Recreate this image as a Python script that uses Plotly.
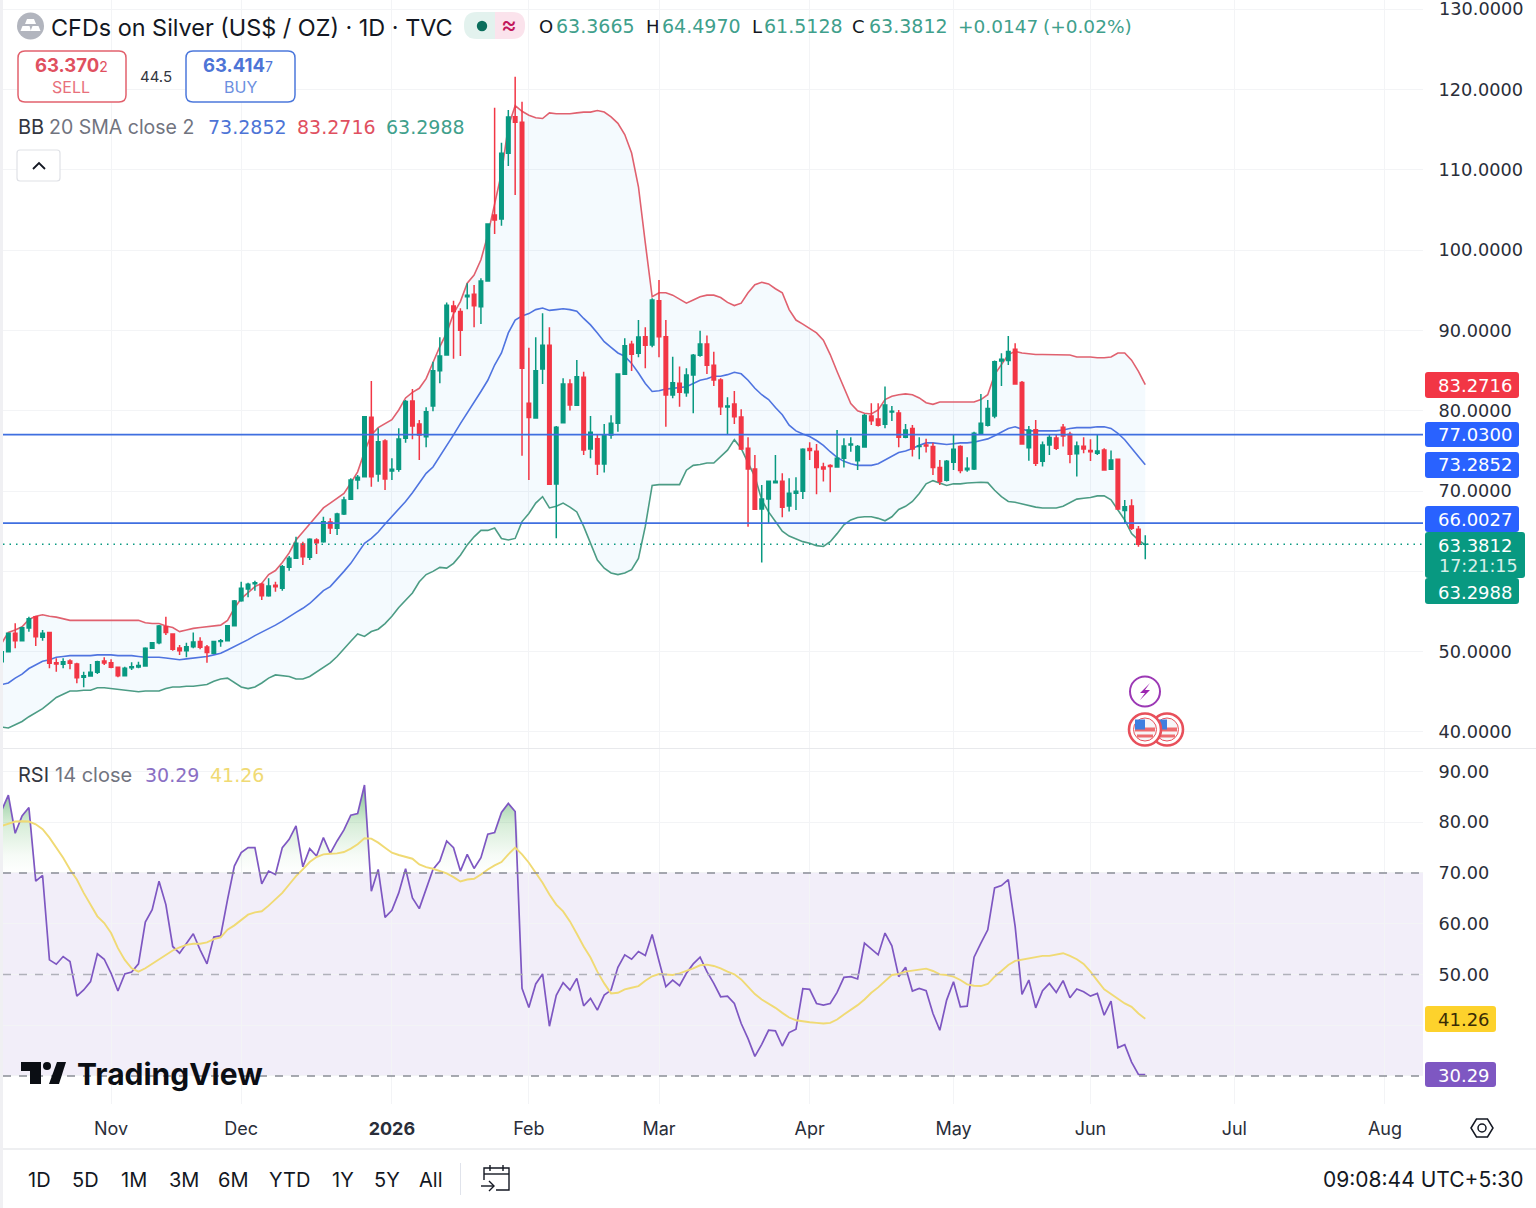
import numpy as np
import plotly.graph_objects as go

# Daily candles, CFDs on Silver (US$ / OZ)
open_ = [48.75,50.00,52.28,51.37,52.95,54.36,51.78,52.37,48.63,48.42,48.84,48.46,46.80,46.97,47.43,48.84,48.63,48.05,47.01,48.01,
48.09,48.22,50.41,51.12,53.11,52.20,50.46,50.12,50.62,51.25,50.58,49.79,51.25,51.37,53.24,56.35,57.80,58.47,58.38,56.97,
58.26,57.89,60.50,61.62,63.41,61.75,63.91,63.70,66.15,65.36,67.14,68.97,71.38,71.79,79.18,72.12,76.23,72.50,72.72,76.57,
81.22,78.36,76.78,80.60,85.00,86.95,93.05,92.35,94.21,94.50,92.97,96.16,104.38,103.89,112.06,116.63,115.92,80.93,79.10,85.21,
88.15,70.88,78.52,83.34,80.68,84.17,75.24,76.53,73.38,76.99,78.44,84.54,88.28,87.16,89.23,88.19,93.71,89.23,81.97,83.42,
82.26,84.46,86.91,88.32,85.66,83.84,80.48,80.85,79.23,75.33,72.76,67.77,69.02,71.05,71.22,68.15,69.72,69.97,75.29,74.96,
73.00,73.17,73.00,74.08,75.74,73.79,75.49,79.36,78.98,78.32,79.85,79.73,76.70,77.78,75.54,75.74,75.54,72.92,71.34,73.59,
75.54,72.67,72.76,77.20,78.19,79.36,86.20,86.25,87.66,83.51,75.41,77.65,73.71,75.74,76.62,77.94,77.07,74.66,75.58,75.04,
74.70,75.12,72.71,73.96,67.57,68.15,65.24,63.3665]
high = [50.21,52.37,53.53,53.11,54.36,54.44,52.70,52.49,49.17,49.17,49.05,48.63,47.51,48.46,48.88,49.29,49.05,48.13,48.13,48.67,
48.75,50.54,51.20,53.32,54.36,52.28,50.83,51.12,52.37,51.78,50.83,51.37,51.58,53.32,56.43,58.72,58.59,58.84,58.59,59.13,
58.72,60.79,61.91,64.32,63.70,64.11,64.11,66.81,66.60,67.31,69.30,71.59,72.00,79.35,83.71,77.81,76.44,74.08,77.81,81.35,
82.71,78.85,80.43,86.12,89.15,93.47,93.71,92.76,95.87,95.67,96.50,103.35,117.75,113.39,117.46,121.61,118.50,87.86,89.15,92.14,
90.39,78.11,84.04,83.92,86.33,84.87,79.35,76.99,78.36,79.44,84.67,89.02,88.73,91.31,90.39,94.01,96.29,91.31,86.74,85.50,
85.29,87.07,89.98,89.36,87.36,84.04,81.68,82.47,80.19,76.70,74.50,70.76,71.22,74.50,72.22,71.59,71.72,75.33,76.08,75.87,
73.54,73.34,77.61,76.57,76.70,75.74,79.60,80.93,80.93,83.01,80.60,80.10,78.36,78.23,76.70,76.53,76.03,73.88,73.88,77.07,
75.70,74.21,77.40,82.09,81.35,86.25,87.16,89.32,88.40,83.71,78.11,78.86,76.16,76.99,76.99,78.36,77.40,76.16,76.70,76.45,
77.07,75.33,75.04,74.00,68.89,68.98,65.66,64.4970]
low = [48.55,49.92,50.41,51.29,52.49,50.71,51.37,47.92,47.51,47.92,47.80,46.06,45.56,46.89,47.22,48.34,47.92,46.80,46.89,47.72,
47.92,48.13,50.33,50.91,52.08,50.12,49.58,49.29,50.41,50.29,48.63,49.71,50.62,51.33,53.20,56.23,56.77,57.60,56.43,56.85,
57.47,57.60,60.09,61.54,60.79,61.42,62.16,63.57,64.65,64.53,67.02,68.89,70.22,71.71,70.55,71.17,70.13,71.38,72.42,76.03,
76.45,73.87,75.45,79.93,83.42,86.87,86.49,86.82,92.64,90.39,90.81,96.12,102.02,103.05,110.49,106.87,74.41,71.38,79.02,83.34,
70.80,64.12,78.52,80.02,80.64,74.50,74.08,72.01,72.30,76.53,77.40,84.46,84.96,86.66,85.29,87.90,86.66,78.02,81.55,80.51,
81.76,79.68,86.74,84.58,83.09,79.48,76.99,78.36,75.12,65.57,67.73,61.09,65.99,70.97,66.74,67.44,67.65,69.02,73.88,69.60,
71.18,69.85,72.92,72.92,74.91,72.63,75.41,78.23,78.03,77.82,78.73,75.45,76.57,74.29,73.96,74.79,72.01,70.76,71.18,72.63,
72.22,72.42,72.63,76.99,78.03,79.06,83.09,85.71,83.30,75.83,73.79,73.13,73.05,74.50,75.12,75.54,73.46,71.80,74.70,73.75,
74.50,72.55,72.63,67.65,65.99,65.16,63.08,61.5128]
close = [50.00,52.28,51.37,52.99,54.11,51.87,52.28,48.55,48.46,48.75,48.55,46.76,47.01,47.43,48.75,48.59,48.05,47.01,47.92,48.13,
48.26,50.41,51.12,53.20,52.37,50.29,50.12,50.62,51.20,50.54,49.88,51.25,51.37,53.24,56.31,57.89,58.38,58.59,56.97,58.18,
58.09,60.58,61.62,63.49,61.83,63.99,63.57,66.19,65.40,67.14,68.89,71.38,71.71,79.26,71.79,76.15,71.50,72.71,76.50,81.14,
78.11,76.99,79.89,85.00,86.82,93.13,92.35,90.02,94.38,93.09,96.16,103.26,103.76,112.06,116.59,115.92,85.29,79.15,85.00,88.15,
70.84,77.94,83.34,80.72,84.25,75.12,77.32,73.38,76.99,78.44,84.58,88.11,87.03,89.19,88.15,93.80,89.23,81.97,83.50,82.30,
84.46,86.91,88.32,85.66,83.84,80.51,80.60,79.27,75.25,72.76,67.73,69.02,71.22,71.22,67.98,69.72,69.97,75.20,75.04,72.92,
72.76,73.05,74.08,75.62,75.87,75.54,79.40,78.77,78.19,80.72,79.94,76.70,77.61,75.25,75.62,75.62,72.92,71.18,73.71,75.20,
72.55,72.84,77.20,78.44,80.27,86.12,86.41,87.37,83.34,75.87,77.61,73.46,75.74,76.66,75.33,76.86,74.58,75.62,75.25,74.91,
75.00,72.63,73.88,67.77,68.06,65.37,63.37,63.3812]

# Bollinger Bands, 20 SMA close 2
bb_upper = [51.0,52.4,52.7,53.1,54.0,54.4,54.6,54.4,54.3,54.1,53.9,53.9,53.9,53.9,53.9,53.9,53.9,53.9,53.9,53.9,
53.9,53.6,53.5,53.5,53.2,53.0,52.5,52.7,52.9,53.0,53.1,53.2,53.3,53.9,55.4,56.6,57.4,58.1,58.5,59.6,
60.1,61.1,62.3,63.9,64.9,65.9,67.0,67.9,68.5,69.1,69.7,71.0,72.4,74.9,77.0,77.9,78.4,78.9,80.1,81.6,
82.3,82.8,84.0,86.1,88.0,89.7,92.1,93.6,95.9,96.9,98.8,101.9,105.6,109.6,115.4,118.0,117.3,116.8,116.5,116.4,
117.1,117.0,117.0,117.0,117.1,117.2,117.2,117.4,117.2,116.6,115.8,114.4,112.1,107.9,100.9,94.2,94.7,94.7,94.4,93.9,
93.4,93.8,94.2,94.4,94.4,94.1,93.5,93.1,93.4,94.7,95.7,96.0,95.8,95.2,94.7,92.6,91.3,90.8,90.2,89.7,
88.8,87.0,84.9,82.8,80.9,80.0,79.7,79.6,80.1,81.4,81.8,82.0,82.1,82.0,81.6,81.0,80.8,81.1,81.1,81.1,
81.1,81.1,81.1,81.4,82.0,84.5,85.7,87.0,87.4,87.2,87.1,87.0,87.0,87.0,87.0,87.0,86.95,86.7,86.7,86.7,
86.6,86.6,86.7,87.2,87.2,86.3,84.9,83.2716]
bb_basis = [45.9,46.1,46.7,47.2,47.9,48.3,48.8,49.0,49.3,49.4,49.5,49.5,49.5,49.5,49.6,49.6,49.6,49.5,49.5,49.5,
49.4,49.3,49.3,49.3,49.2,49.1,49.0,49.1,49.2,49.3,49.4,49.6,49.8,50.2,50.6,51.0,51.5,52.0,52.4,52.9,
53.3,53.8,54.4,54.9,55.4,56.0,56.8,57.6,58.1,59.0,60.0,61.0,62.3,63.5,64.1,64.9,65.9,66.8,67.7,68.7,
69.8,71.0,72.2,73.0,74.3,75.6,77.0,78.4,79.7,81.1,82.4,83.8,85.7,87.2,89.7,91.3,91.8,92.1,92.6,92.8,
92.5,92.6,92.7,92.6,92.4,91.5,90.7,89.7,88.6,87.9,87.2,86.8,85.9,84.7,83.4,82.4,82.5,82.7,82.8,82.9,
83.0,83.4,83.8,84.0,84.3,84.3,84.5,84.8,84.6,83.8,82.8,82.0,81.4,80.4,79.5,78.2,77.5,77.1,76.8,76.3,
75.7,74.9,74.2,73.7,73.4,73.2,73.2,73.2,73.4,73.9,74.4,74.8,75.0,75.3,75.7,76.0,76.0,75.9,75.8,75.9,
76.0,76.0,76.1,76.3,76.5,76.9,77.4,77.8,78.0,77.7,77.5,77.5,77.5,77.5,77.5,77.6,77.8,77.9,77.9,77.9,
78.0,78.0,77.8,77.2,76.4,75.3,74.3,73.2852]
bb_lower = [40.6,40.5,40.9,41.3,41.9,42.4,42.9,43.6,44.3,44.7,45.1,45.1,45.2,45.2,45.5,45.5,45.4,45.3,45.2,45.1,
45.0,45.1,45.1,45.1,45.4,45.6,45.6,45.7,45.7,45.8,45.9,46.3,46.6,46.7,46.1,45.6,45.4,45.6,46.1,46.7,
47.1,47.0,46.9,46.6,46.6,46.9,47.5,48.0,48.6,49.4,50.4,51.3,52.2,51.9,52.5,52.8,53.5,54.4,55.5,56.4,
57.3,58.7,59.6,60.0,60.5,60.4,61.0,62.0,63.3,64.3,65.1,65.1,65.4,64.1,63.9,64.1,66.2,67.2,68.5,69.3,
67.9,68.1,68.5,68.0,67.4,65.6,63.5,61.4,60.4,59.8,59.6,59.8,60.2,61.6,65.6,70.7,70.8,70.8,70.8,70.8,
72.6,73.2,73.3,73.5,73.5,74.3,75.1,76.4,75.3,73.5,71.8,68.9,67.4,66.2,65.0,64.4,64.0,63.7,63.5,63.2,
63.1,63.7,64.7,65.8,66.4,66.7,66.8,66.8,66.6,66.3,66.8,67.7,68.1,68.7,69.7,70.9,71.3,71.0,70.7,70.9,
70.9,71.0,71.05,71.1,71.05,70.1,69.3,68.7,68.6,68.4,68.2,68.0,67.9,67.9,67.9,68.1,68.5,69.0,69.1,69.2,
69.4,69.4,68.9,67.7,66.4,64.7,63.9,63.2988]

# RSI 14 close and its moving average
rsi = [82.25,85.35,77.83,81.26,82.91,68.39,69.51,52.88,52.02,53.54,52.55,45.75,46.94,48.59,54.07,53.01,50.24,46.74,50.11,50.50,
52.09,60.34,62.78,68.39,63.77,55.52,54.20,56.18,58.03,54.86,52.09,57.37,57.63,64.76,71.36,74.00,74.99,74.99,67.86,70.37,
69.71,74.99,76.64,79.28,71.23,74.79,73.34,76.97,73.87,76.31,78.49,81.39,81.72,87.33,66.41,70.70,61.26,62.65,66.08,70.83,
65.09,62.98,66.74,70.70,72.35,76.31,74.99,70.37,73.67,70.90,73.01,77.63,77.96,81.92,83.70,82.12,47.27,43.51,48.13,50.11,
39.81,45.90,48.38,46.93,49.24,43.83,45.28,42.97,45.94,46.93,51.42,53.86,53.00,54.52,53.73,57.89,52.67,47.59,48.91,47.79,
50.23,52.08,53.40,50.56,48.25,45.61,45.74,44.29,40.33,37.36,33.86,36.24,39.01,38.88,35.91,38.55,39.21,47.19,47.06,44.29,
43.96,44.29,46.47,49.44,49.57,49.11,56.17,54.98,53.86,58.15,55.64,49.57,51.42,46.73,47.26,46.80,42.31,39.01,44.95,48.58,
43.63,43.76,53.40,56.17,58.81,67.06,67.52,68.71,59.47,46.07,48.91,43.43,46.80,48.25,46.47,48.78,45.41,47.13,46.60,45.74,
46.27,41.98,44.75,35.58,36.17,32.74,30.30,30.29]
rsi_ma = [79.28,79.70,80.14,80.20,80.14,79.60,78.62,76.97,74.99,73.00,70.70,68.72,66.08,63.77,61.46,60.14,58.16,55.19,52.88,51.23,
50.57,51.23,52.09,52.88,53.87,54.73,55.32,55.85,56.05,56.05,56.31,56.97,57.30,58.82,59.68,60.80,61.79,62.25,62.45,63.57,
64.89,66.08,67.73,69.38,70.70,72.15,73.14,73.67,73.80,73.87,74.13,74.79,75.65,76.84,76.77,75.98,74.99,74.00,73.54,73.20,
72.81,71.69,71.16,70.83,70.37,69.91,69.18,68.32,68.72,68.85,69.71,70.70,71.49,72.15,73.67,74.99,73.67,72.02,70.04,68.06,
65.75,63.77,62.44,60.46,58.02,55.51,53.33,50.56,48.25,46.27,46.40,47.06,47.39,47.72,48.78,49.64,50.10,49.97,49.90,50.23,
50.69,51.22,51.81,51.95,51.68,51.22,50.56,50.03,49.04,47.59,46.14,45.08,44.29,43.43,42.44,41.52,40.99,40.73,40.59,40.46,
40.33,40.46,41.12,42.11,42.97,43.96,45.08,46.40,47.46,48.78,49.90,50.10,50.56,50.76,51.02,51.15,50.69,50.03,49.90,49.57,
48.91,48.05,47.79,47.72,48.12,49.57,50.69,51.88,52.67,52.94,53.27,53.53,53.66,53.66,53.86,54.19,53.66,53.00,52.08,50.56,
48.78,47.06,46.14,45.28,44.29,43.63,42.31,41.26]

bars = list(range(len(close)))

month_bars = [16, 35, 57, 77, 96, 118, 139, 159, 180, 202]
month_labels = ["Nov", "Dec", "<b>2026</b>", "Feb", "Mar", "Apr", "May", "Jun", "Jul", "Aug"]

price_ticks = [40, 50, 60, 70, 80, 90, 100, 110, 120, 130]
price_tick_labels = ["40.0000", "50.0000", "", "70.0000", "80.0000", "90.0000", "100.0000", "110.0000", "120.0000", ""]
rsi_ticks = [30, 40, 50, 60, 70, 80, 90]
rsi_tick_labels = ["", "", "50.00", "60.00", "70.00", "80.00", "90.00"]

resistance = 77.03
support = 66.0027
last_close = 63.3812

range_buttons = ["1D", "5D", "1M", "3M", "6M", "YTD", "1Y", "5Y", "All"]

W, H = 1536, 1208
FONT = "Inter, 'Noto Sans', sans-serif"
NUM = "'DejaVu Sans', Inter, sans-serif"
UP = "#089981"
DOWN = "#F23645"
BLUE = "#2962FF"
INK = "#131722"
GREEN_TXT = "#3fa08c"
RED_TXT = "#e0505f"
BLUE_TXT = "#4d74d6"
PURPLE = "#7E57C2"
YELLOW = "#F0DA74"
GRID = "#f3f4f6"

PANE_L, PANE_R = 3, 1423
PRICE_B = 748
RSI_T, RSI_B = 749, 1104


def fx(x):
    return x / W


def fy(y):
    return 1 - y / H


def label(text, x, y, size=20, color=INK, anchor="left", family=FONT):
    return dict(text=text, x=fx(x), y=fy(y), xref="paper", yref="paper", xanchor=anchor, yanchor="middle",
                showarrow=False, borderpad=0, font=dict(family=family, size=size, color=color))


def num(text, x, y, size=19, color=INK, anchor="left"):
    return label(text, x, y, size, color, anchor, NUM)


def round_rect(x0, y0, x1, y1, r=4, fill="rgba(0,0,0,0)", line=None, lw=1.5):
    p = (f"M {fx(x0 + r)},{fy(y0)} L {fx(x1 - r)},{fy(y0)} Q {fx(x1)},{fy(y0)} {fx(x1)},{fy(y0 + r)} "
         f"L {fx(x1)},{fy(y1 - r)} Q {fx(x1)},{fy(y1)} {fx(x1 - r)},{fy(y1)} "
         f"L {fx(x0 + r)},{fy(y1)} Q {fx(x0)},{fy(y1)} {fx(x0)},{fy(y1 - r)} "
         f"L {fx(x0)},{fy(y0 + r)} Q {fx(x0)},{fy(y0)} {fx(x0 + r)},{fy(y0)} Z")
    return dict(type="path", path=p, xref="paper", yref="paper", fillcolor=fill, layer="above",
                line=dict(color=line or "rgba(0,0,0,0)", width=lw if line else 0))


def poly(points, fill="rgba(0,0,0,0)", line=None, lw=1.5, close=True):
    p = "M " + " L ".join(f"{fx(a)},{fy(b)}" for a, b in points) + (" Z" if close else "")
    return dict(type="path", path=p, xref="paper", yref="paper", fillcolor=fill, layer="above",
                line=dict(color=line or "rgba(0,0,0,0)", width=lw if line else 0))


def disc(cx, cy, r, fill="rgba(0,0,0,0)", line=None, lw=1.5):
    return dict(type="circle", xref="paper", yref="paper", x0=fx(cx - r), x1=fx(cx + r), y0=fy(cy + r), y1=fy(cy - r),
                fillcolor=fill, layer="above", line=dict(color=line or "rgba(0,0,0,0)", width=lw if line else 0))


def box(x0, y0, x1, y1, fill):
    return dict(type="rect", xref="paper", yref="paper", x0=fx(x0), x1=fx(x1), y0=fy(y1), y1=fy(y0),
                fillcolor=fill, layer="above", line=dict(width=0))


def level(y, yref, color, dash="solid", width=1.5, layer="above"):
    return dict(type="line", xref="x domain", x0=0, x1=1, yref=yref, y0=y, y1=y, layer=layer,
                line=dict(color=color, width=width, dash=dash))


fig = go.Figure()

# Bollinger channel: fill first, the three lines on top of it
fig.add_trace(go.Scatter(x=bars, y=bb_upper, xaxis="x2", yaxis="y", mode="lines",
                         line=dict(color="#E0616F", width=1.6), hoverinfo="skip"))
fig.add_trace(go.Scatter(x=bars, y=bb_lower, xaxis="x2", yaxis="y", mode="lines", fill="tonexty",
                         fillcolor="rgba(33,150,243,0.05)", line=dict(color="#4C9C85", width=1.6), hoverinfo="skip"))
fig.add_trace(go.Scatter(x=bars, y=bb_basis, xaxis="x2", yaxis="y", mode="lines",
                         line=dict(color="#4F74E0", width=1.6), hoverinfo="skip"))

# Candles sit on an overlaid axis so they paint above the band lines
fig.add_trace(go.Candlestick(x=bars, open=open_, high=high, low=low, close=close, xaxis="x2", yaxis="y3",
                             increasing=dict(line=dict(color=UP, width=1.5), fillcolor=UP),
                             decreasing=dict(line=dict(color=DOWN, width=1.5), fillcolor=DOWN),
                             whiskerwidth=0, hoverinfo="skip"))

# RSI pane: gradient above the 70 level, then RSI and its average
rsi_above = np.maximum(rsi, 70)
fig.add_trace(go.Scatter(x=bars, y=[70] * len(bars), xaxis="x", yaxis="y2", mode="lines",
                         line=dict(width=0), hoverinfo="skip"))
fig.add_trace(go.Scatter(x=bars, y=rsi_above, xaxis="x", yaxis="y2", mode="lines", fill="tonexty",
                         line=dict(width=0), hoverinfo="skip",
                         fillgradient=dict(type="vertical", start=87.5, stop=70,
                                           colorscale=[[0, "rgba(50,150,85,0.65)"], [0.45, "rgba(76,175,80,0.22)"],
                                                       [0.8, "rgba(76,175,80,0.05)"], [1, "rgba(76,175,80,0.0)"]])))
fig.add_trace(go.Scatter(x=bars, y=rsi, xaxis="x", yaxis="y2", mode="lines",
                         line=dict(color=PURPLE, width=1.7), hoverinfo="skip"))
fig.add_trace(go.Scatter(x=bars, y=rsi_ma, xaxis="x", yaxis="y2", mode="lines",
                         line=dict(color=YELLOW, width=1.9), hoverinfo="skip"))

x_range = [0.219, 207.55]
price_range = [38.0, 131.16]
rsi_range = [24.48, 94.43]

shapes = [
    dict(type="rect", xref="x domain", x0=0, x1=1, yref="y2", y0=30, y1=70, layer="below",
         fillcolor="rgba(126,87,194,0.10)", line=dict(width=0)),
    level(resistance, "y", "#3F6FE0", width=1.7),
    level(support, "y", "#3F6FE0", width=1.7),
    level(last_close, "y", UP, dash="1.5px,5px", width=1.5),
    level(70, "y2", "#8b8d97", dash="8px,8px"),
    level(50, "y2", "#b0b1ba", dash="8px,8px"),
    level(30, "y2", "#8b8d97", dash="8px,8px"),
    # page furniture
    box(0, 0, 3, H, "#f0f0f3"),
    box(3, 748, W, 749, "#e8e9ec"),
    box(3, 1148, W, 1150, "#eeeff1"),
    # symbol badge
    disc(30.5, 26, 13.5, fill="#b2b5be"),
    poly([(27, 19), (34, 19), (36, 24), (25, 24)], fill="#ffffff"),
    poly([(22.5, 26), (29.5, 26), (31, 31), (20.5, 31)], fill="#ffffff"),
    poly([(32.5, 26), (38.5, 26), (40.5, 31), (30.5, 31)], fill="#ffffff"),
    # market status pill
    round_rect(464, 12, 520, 39, r=13, fill="#e3f2ee"),
    round_rect(495, 12, 525, 39, r=13, fill="#fbe3ec"),
    box(495, 12, 505, 39, "#fbe3ec"),
    disc(482, 26, 5.2, fill="#0b6e5c"),
    # sell / buy tickets
    round_rect(18, 51, 126, 102, r=7, fill="#ffffff", line="#E2616D"),
    round_rect(186, 51, 295, 102, r=7, fill="#ffffff", line="#4C78DC"),
    # collapse button
    round_rect(17, 150, 60, 181, r=3, fill="#ffffff", line="#dfe1e6", lw=1.2),
    poly([(33, 169), (39, 163), (45, 169)], line=INK, lw=1.8, close=False),
    # price scale tags
    round_rect(1425, 372, 1519, 398, r=3, fill=DOWN),
    round_rect(1425, 422, 1519, 447, r=3, fill=BLUE),
    round_rect(1425, 452, 1519, 478, r=3, fill=BLUE),
    round_rect(1425, 506, 1519, 532, r=3, fill=BLUE),
    round_rect(1425, 532, 1525, 578, r=3, fill=UP),
    round_rect(1425, 578, 1519, 604, r=3, fill=UP),
    round_rect(1425, 1006, 1496, 1032, r=3, fill="#FDD22C"),
    round_rect(1425, 1062, 1496, 1087, r=3, fill=PURPLE),
    # settings nut
    poly([(1471, 1128), (1476.5, 1119), (1487.5, 1119), (1493, 1128), (1487.5, 1137), (1476.5, 1137)], line=INK, lw=1.5),
    disc(1482, 1128, 4, line=INK, lw=1.5),
    # date-range divider and calendar
    box(460, 1163, 461, 1195, "#e0e3eb"),
    poly([(484, 1180), (484, 1168), (509, 1168), (509, 1190), (496, 1190)], line=INK, lw=1.4, close=False),
    poly([(484, 1174), (509, 1174)], line=INK, lw=1.4, close=False),
    poly([(490, 1165), (490, 1171)], line=INK, lw=1.4, close=False),
    poly([(503, 1165), (503, 1171)], line=INK, lw=1.4, close=False),
    poly([(481, 1186), (494, 1186)], line=INK, lw=1.4, close=False),
    poly([(489, 1181), (494, 1186), (489, 1191)], line=INK, lw=1.4, close=False),
    # TradingView mark
    poly([(21, 1062), (41, 1062), (41, 1084), (30, 1084), (30, 1071), (21, 1071)], fill="#0b0e14"),
    disc(47, 1066, 4, fill="#0b0e14"),
    poly([(57, 1062), (66, 1062), (59, 1084), (49, 1084)], fill="#0b0e14"),
    # economic events
    disc(1145, 691.5, 15, fill="#ffffff", line="#9C39B5", lw=2),
    poly([(1150, 683), (1140, 693), (1145, 693), (1140, 700), (1150, 690), (1145, 690)], fill="#9C27B0"),
]


def flag(cx, cy):
    # small US-flag event marker
    return [
        disc(cx, cy, 16, fill="#ffffff", line="#E8505B", lw=2.6),
        disc(cx, cy, 11.5, fill="#f6f6f8", line="#E8505B", lw=1),
        box(cx - 10, cy - 2, cx + 10, cy + 2, "#EE6B6F"),
        box(cx - 8, cy + 5, cx + 8, cy + 8, "#EE6B6F"),
        box(cx - 10, cy - 10, cx, cy, "#3F7FE0"),
    ]


shapes += flag(1167, 729.5) + flag(1145, 729.5)

GREEN_V = GREEN_TXT
annotations = [
    label("CFDs on Silver (US$ / OZ) · 1D · TVC", 50, 27, 23.4, INK),
    label("≈", 509, 25, 24, "#C2185B", "center"),
    num("O", 538, 26, 18, INK), num("63.3665", 555, 26, 19, GREEN_V),
    num("H", 644.5, 26, 18, INK), num("64.4970", 660.5, 26, 19, GREEN_V),
    num("L", 750.5, 26, 18, INK), num("61.5128", 762.5, 26, 19, GREEN_V),
    num("C", 851, 26, 18, INK), num("63.3812", 868, 26, 19, GREEN_V),
    num("+0.0147", 957, 26, 18.5, GREEN_V), num("(+0.02%)", 1042, 26, 18.5, GREEN_V),
    label("<b>63.370</b><span style='font-size:14px'>2</span>", 34, 65, 18.5, RED_TXT),
    label("SELL", 71, 87, 16, "#E8707B", "center"),
    label("44.5", 155.5, 77, 15, "#333640", "center"),
    label("<b>63.414</b><span style='font-size:14px'>7</span>", 202, 65, 18.5, BLUE_TXT),
    label("BUY", 240, 87, 16, "#6C8FE0", "center"),
    label("BB", 16.5, 127, 20, "#333640"),
    label("20 SMA close 2", 48, 127, 19.5, "#71747f"),
    num("73.2852", 207, 127, 19, BLUE_TXT),
    num("83.2716", 296, 127, 19, RED_TXT),
    num("63.2988", 385, 127, 19, GREEN_V),
    label("RSI", 16.5, 775, 20, "#333640"),
    label("14 close", 54, 775, 20, "#71747f"),
    num("30.29", 144, 775, 19, "#8A6FC4"),
    num("41.26", 209, 775, 19, "#F0DA74"),
    label("<b>TradingView</b>", 76, 1074, 30, "#0b0e14"),
    num("130.0000", 1438, 9.5, 17.7, "#2a2e39"),
    num("83.2716", 1437, 385, 18, "#ffffff"),
    num("77.0300", 1437, 434.5, 18, "#ffffff"),
    num("73.2852", 1437, 465, 18, "#ffffff"),
    num("66.0027", 1437, 519, 18, "#ffffff"),
    num("63.3812", 1437, 545, 18, "#ffffff"),
    num("17:21:15", 1438, 566, 17.5, "#d7efe9"),
    num("63.2988", 1437, 592, 18, "#ffffff"),
    num("41.26", 1437, 1019, 18, "#3a2c05"),
    num("30.29", 1437, 1075, 18, "#ffffff"),
    label("09:08:44 UTC+5:30", 1524, 1179, 21, INK, "right"),
]
for text, cx in zip(range_buttons, [39, 85, 134, 184, 233, 289, 343, 387, 431]):
    annotations.append(label(text, cx, 1180, 20, INK, "center"))

dom_x = [fx(PANE_L), fx(PANE_R)]
fig.update_layout(
    width=W, height=H, autosize=False,
    margin=dict(l=0, r=0, t=0, b=0),
    paper_bgcolor="#ffffff", plot_bgcolor="#ffffff",
    showlegend=False, dragmode=False, boxgap=0.27,
    font=dict(family=FONT, size=18, color=INK),
    xaxis=dict(domain=dom_x, range=x_range, anchor="y2", tickmode="array", tickvals=month_bars, ticktext=month_labels,
               showgrid=True, gridcolor=GRID, gridwidth=1, zeroline=False, showline=False,
               ticks="outside", ticklen=8, tickcolor="rgba(0,0,0,0)", tickfont=dict(size=18, color="#2a2e39")),
    xaxis2=dict(domain=dom_x, range=x_range, anchor="y", tickmode="array", tickvals=month_bars, showticklabels=False,
                showgrid=True, gridcolor=GRID, gridwidth=1, zeroline=False, showline=False, ticks="",
                rangeslider=dict(visible=False)),
    yaxis=dict(domain=[fy(PRICE_B), 1], range=price_range, anchor="x2", side="right", tickmode="array",
               tickvals=price_ticks, ticktext=price_tick_labels, showgrid=True, gridcolor=GRID, zeroline=False,
               showline=False, ticks="outside", ticklen=11, tickcolor="rgba(0,0,0,0)",
               tickfont=dict(size=17.7, color="#2a2e39", family=NUM)),
    yaxis3=dict(domain=[fy(PRICE_B), 1], range=price_range, overlaying="y", anchor="x2", side="right", visible=False),
    yaxis2=dict(domain=[fy(RSI_B), fy(RSI_T)], range=rsi_range, anchor="x", side="right", tickmode="array",
                tickvals=rsi_ticks, ticktext=rsi_tick_labels, showgrid=True, gridcolor=GRID, zeroline=False,
                showline=False, ticks="outside", ticklen=11, tickcolor="rgba(0,0,0,0)",
                tickfont=dict(size=17.7, color="#2a2e39", family=NUM)),
    shapes=shapes,
    annotations=annotations,
)

fig.write_html("out.html", config=dict(displayModeBar=False, staticPlot=True))
